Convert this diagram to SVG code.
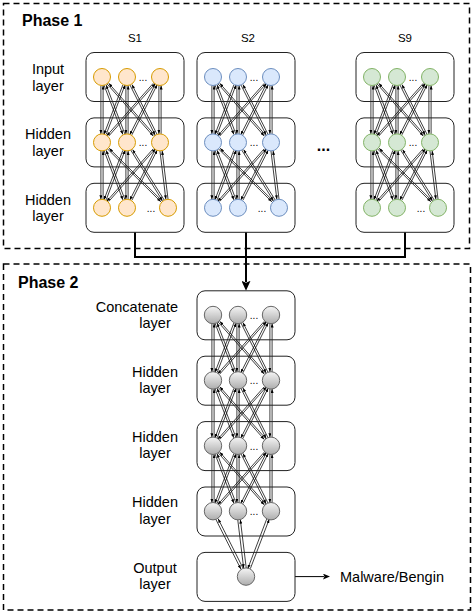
<svg xmlns="http://www.w3.org/2000/svg" xmlns:xlink="http://www.w3.org/1999/xlink" width="474" height="613" viewBox="0 0 474 613">
<style>
text{font-family:"Liberation Sans",Arial,Helvetica,sans-serif;fill:#000}
.phase{font-size:16px;font-weight:bold}
.lbl{font-size:14.5px;text-anchor:middle}
.lbl2{font-size:14.5px;text-anchor:middle}
.sl{font-size:11.5px;text-anchor:middle}
.dots{font-size:10px;text-anchor:middle}
.cont{fill:none;stroke:#000;stroke-width:1.5;stroke-dasharray:6 4}
.box{fill:none;stroke:#222;stroke-width:1}
.lk line{stroke:#000;stroke-width:0.75}
.thick{fill:none;stroke:#000;stroke-width:2}
.thin{fill:none;stroke:#000;stroke-width:1}
.o{fill:#ffe6cc;stroke:#d79b00;stroke-width:1}
.b{fill:#dae8fc;stroke:#6c8ebf;stroke-width:1}
.g{fill:#d5e8d4;stroke:#82b366;stroke-width:1}
.k{fill:url(#grey);stroke:#666;stroke-width:1}
</style>
<defs>
<linearGradient id="grey" x1="0" y1="0" x2="0" y2="1"><stop offset="0" stop-color="#f5f5f5"/><stop offset="1" stop-color="#adadad"/></linearGradient>
<marker id="ta" viewBox="0 0 4 3" refX="4" refY="1.5" markerWidth="4" markerHeight="3" markerUnits="userSpaceOnUse" orient="auto"><path d="M0,0L4,1.5L0,3z" fill="#000"/></marker>
<marker id="tb" viewBox="0 0 4 3" refX="4" refY="1.5" markerWidth="4" markerHeight="3" markerUnits="userSpaceOnUse" orient="auto-start-reverse"><path d="M0,0L4,1.5L0,3z" fill="#000"/></marker>
<marker id="big" viewBox="0 0 10 9" refX="1.2" refY="4.5" markerWidth="10" markerHeight="9" markerUnits="userSpaceOnUse" orient="auto"><path d="M0,0L10,4.5L0,9L2,4.5z" fill="#000"/></marker>
<marker id="sm" viewBox="0 0 7 6" refX="1" refY="3" markerWidth="7" markerHeight="6" markerUnits="userSpaceOnUse" orient="auto"><path d="M0,0L7,3L0,6L1.5,3z" fill="#000"/></marker>
<g id="gA" class="lk">
<line x1="16" y1="8.5" x2="16" y2="56.9"/>
<line x1="19.05" y1="7.93" x2="37.95" y2="57.47"/>
<line x1="21.66" y1="6.34" x2="68.34" y2="59.06"/>
<line x1="37.95" y1="7.93" x2="19.05" y2="57.47"/>
<line x1="41" y1="8.5" x2="41" y2="56.9"/>
<line x1="44.85" y1="7.58" x2="70.15" y2="57.82"/>
<line x1="68.34" y1="6.34" x2="21.66" y2="59.06"/>
<line x1="70.15" y1="7.58" x2="44.85" y2="57.82"/>
<line x1="74" y1="8.5" x2="74" y2="56.9"/>
</g>
<g id="gB" class="lk">
<line x1="16" y1="8.5" x2="16" y2="56.9"/>
<line x1="19.05" y1="7.93" x2="37.95" y2="57.47"/>
<line x1="22.06" y1="5.97" x2="75.94" y2="59.43"/>
<line x1="37.95" y1="7.93" x2="19.05" y2="57.47"/>
<line x1="41" y1="8.5" x2="41" y2="56.9"/>
<line x1="45.53" y1="7.19" x2="77.47" y2="58.21"/>
<line x1="68.34" y1="6.34" x2="21.66" y2="59.06"/>
<line x1="70.15" y1="7.58" x2="44.85" y2="57.82"/>
<line x1="75.04" y1="8.44" x2="80.96" y2="56.96"/>
</g>
<g id="gO" class="lk">
<line x1="19.85" y1="7.58" x2="45.15" y2="57.82"/>
<line x1="42.04" y1="8.44" x2="47.96" y2="56.96"/>
<line x1="70.95" y1="7.93" x2="52.05" y2="57.47"/>
</g>
<g id="LA"><use href="#gA" transform="translate(-1.1,0)" marker-end="url(#ta)"/><use href="#gA" transform="translate(1.1,0)" marker-start="url(#tb)"/></g>
<g id="LB"><use href="#gB" transform="translate(-1.1,0)" marker-end="url(#ta)"/><use href="#gB" transform="translate(1.1,0)" marker-start="url(#tb)"/></g>
<g id="LO"><use href="#gO" transform="translate(-1.3,0)" marker-end="url(#ta)"/><use href="#gO" transform="translate(1.3,0)" marker-start="url(#tb)"/></g>
</defs>
<rect width="474" height="613" fill="#fff"/>

<g id="phase1">
<rect class="cont" x="3.5" y="3.5" width="466" height="245"/>
<text class="phase" x="22" y="26">Phase 1</text>
<text x="323.5" y="151" style="font-size:16px;font-weight:bold;text-anchor:middle">...</text>
</g>
<g id="phase2">
<rect class="cont" x="3.5" y="264" width="467" height="346"/>
<text class="phase" x="18" y="288">Phase 2</text>
</g>

<g id="labels1">
<text class="lbl" x="48" y="74">Input</text>
<text class="lbl" x="48" y="90.5">layer</text>
<text class="lbl" x="48" y="139.4">Hidden</text>
<text class="lbl" x="48" y="155.9">layer</text>
<text class="lbl" x="48" y="204.8">Hidden</text>
<text class="lbl" x="48" y="221.3">layer</text>
</g>

<g id="connectors">
<use href="#LA" transform="translate(86,77)"/>
<use href="#LB" transform="translate(86,142.4)"/>
<use href="#LA" transform="translate(197,77)"/>
<use href="#LB" transform="translate(197,142.4)"/>
<use href="#LA" transform="translate(356,77)"/>
<use href="#LB" transform="translate(356,142.4)"/>
<use href="#LA" transform="translate(197,315)"/>
<use href="#LA" transform="translate(197,380.4)"/>
<use href="#LA" transform="translate(197,445.8)"/>
<use href="#LO" transform="translate(197,511.2)"/>
<path class="thick" d="M135,232.3V257H405V232.3"/>
<path class="thick" d="M246,232.3V282" marker-end="url(#big)"/>
<path class="thin" d="M295,576.6H324" marker-end="url(#sm)"/>
</g>

<g id="s1">
<text class="sl" x="135" y="42">S1</text>
<rect class="box" x="86" y="52.5" width="98" height="49" rx="8"/>
<rect class="box" x="86" y="117.9" width="98" height="49" rx="8"/>
<rect class="box" x="86" y="183.3" width="98" height="49" rx="8"/>
<circle class="o" cx="102" cy="77" r="8.5"/><circle class="o" cx="127" cy="77" r="8.5"/><circle class="o" cx="160" cy="77" r="8.5"/>
<circle class="o" cx="102" cy="142.4" r="8.5"/><circle class="o" cx="127" cy="142.4" r="8.5"/><circle class="o" cx="160" cy="142.4" r="8.5"/>
<circle class="o" cx="102" cy="207.8" r="8.5"/><circle class="o" cx="127" cy="207.8" r="8.5"/><circle class="o" cx="168" cy="207.8" r="8.5"/>
<text class="dots" x="143" y="81">...</text>
<text class="dots" x="143" y="146.4">...</text>
<text class="dots" x="151" y="211.8">...</text>
</g>

<g id="s2">
<text class="sl" x="248" y="42">S2</text>
<rect class="box" x="197" y="52.5" width="98" height="49" rx="8"/>
<rect class="box" x="197" y="117.9" width="98" height="49" rx="8"/>
<rect class="box" x="197" y="183.3" width="98" height="49" rx="8"/>
<circle class="b" cx="213" cy="77" r="8.5"/><circle class="b" cx="238" cy="77" r="8.5"/><circle class="b" cx="271" cy="77" r="8.5"/>
<circle class="b" cx="213" cy="142.4" r="8.5"/><circle class="b" cx="238" cy="142.4" r="8.5"/><circle class="b" cx="271" cy="142.4" r="8.5"/>
<circle class="b" cx="213" cy="207.8" r="8.5"/><circle class="b" cx="238" cy="207.8" r="8.5"/><circle class="b" cx="279" cy="207.8" r="8.5"/>
<text class="dots" x="254" y="81">...</text>
<text class="dots" x="254" y="146.4">...</text>
<text class="dots" x="262" y="211.8">...</text>
</g>

<g id="s9">
<text class="sl" x="405" y="42">S9</text>
<rect class="box" x="356" y="52.5" width="98" height="49" rx="8"/>
<rect class="box" x="356" y="117.9" width="98" height="49" rx="8"/>
<rect class="box" x="356" y="183.3" width="98" height="49" rx="8"/>
<circle class="g" cx="372" cy="77" r="8.5"/><circle class="g" cx="397" cy="77" r="8.5"/><circle class="g" cx="430" cy="77" r="8.5"/>
<circle class="g" cx="372" cy="142.4" r="8.5"/><circle class="g" cx="397" cy="142.4" r="8.5"/><circle class="g" cx="430" cy="142.4" r="8.5"/>
<circle class="g" cx="372" cy="207.8" r="8.5"/><circle class="g" cx="397" cy="207.8" r="8.5"/><circle class="g" cx="438" cy="207.8" r="8.5"/>
<text class="dots" x="413" y="81">...</text>
<text class="dots" x="413" y="146.4">...</text>
<text class="dots" x="421" y="211.8">...</text>
</g>

<g id="concat">
<text class="lbl2" x="178" y="311.5" style="text-anchor:end">Concatenate</text>
<text class="lbl2" x="155" y="328">layer</text>
<rect class="box" x="197" y="290.8" width="98" height="49" rx="8"/>
<circle class="k" cx="213" cy="315" r="8.7"/><circle class="k" cx="238" cy="315" r="8.7"/><circle class="k" cx="271" cy="315" r="8.7"/>
<text class="dots" x="254" y="319">...</text>
</g>
<g id="hidden1">
<text class="lbl2" x="155" y="376.5">Hidden</text>
<text class="lbl2" x="155" y="393">layer</text>
<rect class="box" x="197" y="356.2" width="98" height="49" rx="8"/>
<circle class="k" cx="213" cy="380.4" r="8.7"/><circle class="k" cx="238" cy="380.4" r="8.7"/><circle class="k" cx="271" cy="380.4" r="8.7"/>
<text class="dots" x="254" y="384.4">...</text>
</g>
<g id="hidden2">
<text class="lbl2" x="155" y="441.9">Hidden</text>
<text class="lbl2" x="155" y="458.4">layer</text>
<rect class="box" x="197" y="421.6" width="98" height="49" rx="8"/>
<circle class="k" cx="213" cy="445.8" r="8.7"/><circle class="k" cx="238" cy="445.8" r="8.7"/><circle class="k" cx="271" cy="445.8" r="8.7"/>
<text class="dots" x="254" y="449.8">...</text>
</g>
<g id="hidden3">
<text class="lbl2" x="155" y="507.3">Hidden</text>
<text class="lbl2" x="155" y="523.8">layer</text>
<rect class="box" x="197" y="487" width="98" height="49" rx="8"/>
<circle class="k" cx="213" cy="511.2" r="8.7"/><circle class="k" cx="238" cy="511.2" r="8.7"/><circle class="k" cx="271" cy="511.2" r="8.7"/>
<text class="dots" x="254" y="515.2">...</text>
</g>
<g id="output">
<text class="lbl2" x="155" y="572.9">Output</text>
<text class="lbl2" x="155" y="589.4">layer</text>
<rect class="box" x="197" y="552.4" width="98" height="49" rx="8"/>
<circle class="k" cx="246" cy="576.6" r="8.7"/>
</g>
<g id="result">
<text x="340" y="581.6" style="font-size:14.5px">Malware/Bengin</text>
</g>
</svg>
